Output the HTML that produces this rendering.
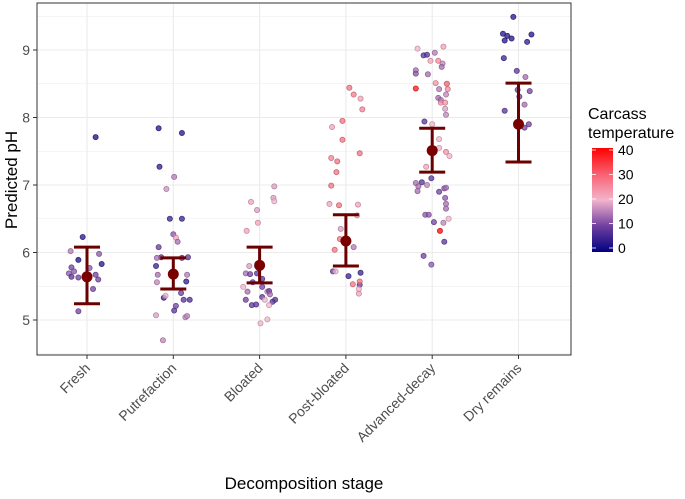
<!DOCTYPE html>
<html><head><meta charset="utf-8"><style>
body{margin:0;background:#fff;font-family:"Liberation Sans",Arial,sans-serif}
svg text{font-family:"Liberation Sans",Arial,sans-serif}
</style></head><body>
<svg id="chart" width="685" height="494">
<defs><linearGradient id="cb" x1="0" y1="1" x2="0" y2="0">
<stop offset="0" stop-color="#000080"/><stop offset="0.25" stop-color="#7040a0"/><stop offset="0.5" stop-color="#f4b4cc"/><stop offset="0.75" stop-color="#f86070"/><stop offset="1" stop-color="#ff0000"/></linearGradient></defs>
<g id="grid"></g>
<g id="pts"></g>
<g id="bars"></g>
<rect x="37" y="3" width="534" height="352" fill="none" stroke="#333" stroke-width="1"/>
<g id="axes"></g>
<text x="304" y="489" font-size="17" text-anchor="middle" fill="#000">Decomposition stage</text>
<text transform="translate(17,180) rotate(-90)" font-size="17" text-anchor="middle" fill="#000">Predicted pH</text>
<g>
<text font-size="16" fill="#000"><tspan x="588" y="119">Carcass</tspan><tspan x="588" y="138">temperature</tspan></text>
<rect x="592" y="148" width="21" height="104" fill="url(#cb)"/>
<g id="leg"></g>
</g>
</svg>
<script>
const categories=["Fresh","Putrefaction","Bloated","Post-bloated","Advanced-decay","Dry remains"];
const means=[5.64,5.68,5.81,6.17,7.51,7.90];
const lower=[5.24,5.46,5.55,5.80,7.19,7.34];
const upper=[6.08,5.92,6.08,6.56,7.84,8.51];
const yTicks=[5,6,7,8,9];
const legendTicks=[0,10,20,30,40];
// per-stage point data: jitter (category units), pH, temperature
const freshJ=[.10,-.05,-.19,.14,-.10,.17,-.18,-.15,-.21,-.18,-.10,.03,.10,.13,.07,-.10];
const freshPH=[7.71,6.23,6.02,5.98,5.89,5.83,5.78,5.72,5.69,5.64,5.63,5.77,5.67,5.60,5.46,5.13];
const freshT=[2,3,15,12,2,3,10,12,12,8,10,12,10,10,10,10];
const putJ=[-.17,.10,-.16,.01,-.08,-.04,.10,0,.03,.05,-.17,.17,-.14,.10,-.20,-.18,-.19,.16,.15,.09,-.11,.12,.19,.03,.01,-.2,.14,.16,-.12,-.09,-.19];
const putPH=[7.84,7.77,7.27,7.12,6.94,6.50,6.50,6.27,6.22,6.16,6.08,5.93,5.93,5.92,5.80,5.67,5.56,5.67,5.57,5.40,5.33,5.30,5.30,5.21,5.14,5.07,5.04,5.06,4.70,5.36,5.92];
const putT=[3,3,4,15,17,5,5,12,22,14,9,8,8,8,5,14,16,15,4,9,5,8,7,10,8,18,16,16,16,20,14];
const bloJ=[.17,.16,.17,-.10,-.03,-.02,-.15,-.12,-.16,-.11,-.03,.03,-.08,-.19,.03,.09,.11,-.14,.03,-.16,.18,.15,-.09,-.04,.06,.11,.09,.01,.12];
const bloPH=[6.98,6.81,6.76,6.75,6.63,6.44,6.32,5.80,5.69,5.68,5.69,5.61,5.56,5.49,5.49,5.42,5.43,5.42,5.34,5.30,5.30,5.27,5.22,5.23,5.30,5.22,5.01,4.95,5.38];
const bloT=[18,18,20,22,18,22,22,18,14,10,8,8,8,20,10,16,9,14,8,10,8,8,8,8,20,20,20,20,14];
const postJ=[.04,.09,.17,.19,-.04,-.16,-.04,.16,-.17,-.10,-.11,-.17,-.08,.14,-.19,.13,-.06,-.07,-.13,.09,-.15,.17,.03,-.12,.16,.16,.08,.15,.15];
const postPH=[8.44,8.34,8.28,8.12,7.95,7.86,7.67,7.47,7.40,7.35,7.19,6.99,6.70,6.71,6.72,6.55,6.35,6.20,6.04,6.08,5.72,5.70,5.65,5.72,5.52,5.57,5.53,5.46,5.39];
const postT=[28,27,22,26,28,22,28,28,26,28,28,28,28,22,22,22,18,28,28,15,9,5,5,20,9,28,28,20,22];
const advJ=[.13,-.17,-.10,-.06,.03,-.02,.07,.12,.11,-.19,-.19,-.05,.04,.17,-.19,.08,.18,.16,.07,.10,.10,.15,.15,.16,-.09,0,.08,.08,.16,.20,-.07,-.01,-.19,-.12,-.06,-.16,-.17,.08,.14,.16,.15,.16,.16,-.08,-.04,.19,.02,.13,.09,.14,-.10,-.01];
const advPH=[9.05,9.02,8.92,8.93,8.96,8.84,8.84,8.80,8.75,8.70,8.65,8.64,8.51,8.50,8.43,8.42,8.42,8.34,8.29,8.26,8.22,8.22,8.13,8.04,7.94,7.90,7.68,7.55,7.49,7.43,7.27,7.10,7.03,7.04,7.00,6.98,6.91,6.90,6.95,6.96,6.81,6.72,6.65,6.56,6.56,6.50,6.45,6.44,6.32,6.16,5.95,5.82];
const advT=[22,20,8,8,15,22,25,16,14,14,12,14,24,30,38,15,25,16,14,14,24,24,18,16,8,20,20,20,24,20,22,8,14,8,16,14,14,10,12,14,12,14,14,12,12,20,10,16,40,8,10,12];
const dryJ=[-.06,-.18,-.13,-.08,-.16,.15,.10,-.17,-.02,.08,.13,-.01,.01,.07,-.16,.12,.07];
const dryPH=[9.49,9.24,9.21,9.17,9.14,9.23,9.12,8.88,8.69,8.60,8.39,8.41,8.31,8.19,8.10,7.90,7.85];
const dryT=[3,3,3,3,3,3,4,5,8,14,10,10,10,14,8,10,10];
const stageJ=[freshJ,putJ,bloJ,postJ,advJ,dryJ];
const stagePH=[freshPH,putPH,bloPH,postPH,advPH,dryPH];
const stageT=[freshT,putT,bloT,postT,advT,dryT];

const NS="http://www.w3.org/2000/svg";
const X0=37,X1=571,Y0=3,Y1=355;
const xScale=i=>87+i*86.3;
const ys=v=>320-(v-5)*67.5;
function mk(tag,attrs,parent){const e=document.createElementNS(NS,tag);for(const k in attrs)e.setAttribute(k,attrs[k]);parent.appendChild(e);return e;}
const stops=[[0,[0,0,128]],[10,[112,64,160]],[20,[244,180,204]],[30,[248,96,112]],[40,[255,0,0]]];
function col(t){for(let i=0;i<stops.length-1;i++){const a=stops[i],b=stops[i+1];if(t<=b[0]){const f=(t-a[0])/(b[0]-a[0]);return a[1].map((c,j)=>Math.round(c+(b[1][j]-c)*f));}}return stops[4][1];}
const grid=document.getElementById('grid');
mk('rect',{x:X0,y:Y0,width:X1-X0,height:Y1-Y0,fill:'#fff'},grid);
for(let v=4.5;v<=9.5;v+=0.5){const y=ys(v);if(y<Y0||y>Y1)continue;const l=mk('line',{x1:X0,x2:X1,y1:y,y2:y,stroke:'#ebebeb','stroke-width':v%1?0.6:1.1},grid);

}
categories.forEach((c,i)=>{const l=mk('line',{x1:xScale(i),x2:xScale(i),y1:Y0,y2:Y1,stroke:'#ebebeb','stroke-width':1.1},grid);

});
const pts=document.getElementById('pts');
stagePH.forEach((arr,s)=>{arr.forEach((v,k)=>{const c=col(stageT[s][k]);const d=c.map(q=>Math.round(q*0.75));
const p=mk('circle',{cx:xScale(s)+stageJ[s][k]*86.3,cy:ys(v),r:2.6,fill:`rgba(${c},0.75)`,stroke:`rgba(${d},0.8)`,'stroke-width':0.8},pts);

});});
const bars=document.getElementById('bars');
categories.forEach((c,i)=>{const x=xScale(i);const g=mk('g',{},bars);


const s={stroke:'#6b0000','stroke-width':3};
mk('line',Object.assign({x1:x,x2:x,y1:ys(upper[i]),y2:ys(lower[i])},s),g);
mk('line',Object.assign({x1:x-13,x2:x+13,y1:ys(upper[i]),y2:ys(upper[i])},s),g);
mk('line',Object.assign({x1:x-13,x2:x+13,y1:ys(lower[i]),y2:ys(lower[i])},s),g);
const m=mk('circle',{cx:x,cy:ys(means[i]),r:5.5,fill:'#7a0000'},g);

});
const axes=document.getElementById('axes');
yTicks.forEach(v=>{const y=ys(v);mk('line',{x1:X0-4,x2:X0,y1:y,y2:y,stroke:'#333'},axes);
const t=mk('text',{x:X0-7,y:y+5,'font-size':14,'text-anchor':'end',fill:'#4d4d4d'},axes);t.textContent=v;

});
categories.forEach((c,i)=>{const x=xScale(i);mk('line',{x1:x,x2:x,y1:Y1,y2:Y1+4,stroke:'#333'},axes);
const t=mk('text',{transform:`translate(${x+4},${Y1+14}) rotate(-45)`,'font-size':14,'text-anchor':'end',fill:'#4d4d4d'},axes);t.textContent=c;

});
const leg=document.getElementById('leg');
legendTicks.forEach(v=>{const y=248-(v/40)*98;
mk('line',{x1:592,x2:596,y1:y,y2:y,stroke:'#fff','stroke-width':0.8},leg);mk('line',{x1:609,x2:613,y1:y,y2:y,stroke:'#fff','stroke-width':0.8},leg);
const t=mk('text',{x:618,y:y+5,'font-size':14,fill:'#000'},leg);t.textContent=v;

});
</script>
</body></html>
